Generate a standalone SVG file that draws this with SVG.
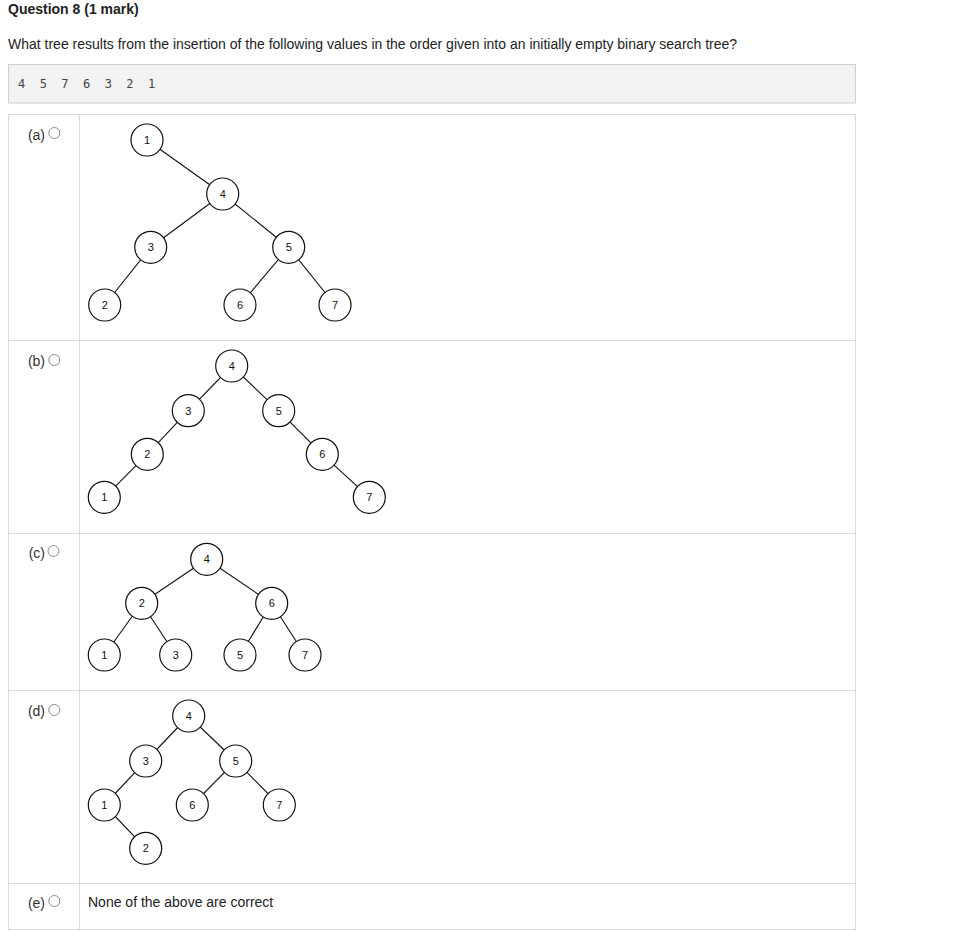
<svg xmlns="http://www.w3.org/2000/svg" width="962" height="931" viewBox="0 0 962 931">
<style>
.t{font-family:"Liberation Sans",Arial,sans-serif;fill:#222}
.n circle{fill:#fff;stroke:#111;stroke-width:1.2}
.n text{font-family:"Liberation Sans",Arial,sans-serif;font-size:11px;fill:#111;text-anchor:middle}
.e line{stroke:#111;stroke-width:1.1}
.grid{stroke:#dcdcdc;stroke-width:1;fill:none}
.lbl{font-family:"Liberation Sans",Arial,sans-serif;font-size:14px;fill:#333;text-anchor:end}
.radio{fill:#fff;stroke:#8a8a8a;stroke-width:1}
</style>
<rect width="962" height="931" fill="#fff"/>
<text class="t" x="8" y="14" font-size="14" font-weight="bold" fill="#000">Question 8 (1 mark)</text>
<text class="t" x="8" y="49" font-size="14" fill="#333">What tree results from the insertion of the following values in the order given into an initially empty binary search tree?</text>
<rect x="8.5" y="64.5" width="847" height="38.5" fill="#f3f3f3" stroke="#cfcfcf"/>
<text x="18" y="88" font-family="'DejaVu Sans Mono','Liberation Mono',monospace" font-size="12" fill="#444" xml:space="preserve" style="white-space:pre">4  5  7  6  3  2  1</text>

<g id="table">
<rect class="grid" x="8.5" y="114.5" width="847" height="815"/>
<line class="grid" x1="79.5" y1="114.5" x2="79.5" y2="929.5"/>
<line class="grid" x1="8.5" y1="340.5" x2="855.5" y2="340.5"/>
<line class="grid" x1="8.5" y1="533.5" x2="855.5" y2="533.5"/>
<line class="grid" x1="8.5" y1="690.5" x2="855.5" y2="690.5"/>
<line class="grid" x1="8.5" y1="883.5" x2="855.5" y2="883.5"/>
</g>

<g id="labels">
<text class="lbl" x="45" y="140">(a)</text><circle class="radio" cx="54.3" cy="133" r="5.5"/>
<text class="lbl" x="45" y="366">(b)</text><circle class="radio" cx="54.3" cy="360" r="5.5"/>
<text class="lbl" x="45" y="558">(c)</text><circle class="radio" cx="53.5" cy="551" r="5.5"/>
<text class="lbl" x="45" y="716">(d)</text><circle class="radio" cx="54.3" cy="710" r="5.5"/>
<text class="lbl" x="45" y="908">(e)</text><circle class="radio" cx="54.3" cy="901" r="5.5"/>
<text class="t" x="88" y="907" font-size="14" fill="#333">None of the above are correct</text>
</g>

<g id="connectors" class="e">
<!-- a -->
<line x1="147" y1="140" x2="222.7" y2="194"/>
<line x1="222.7" y1="194" x2="150.7" y2="247.3"/>
<line x1="222.7" y1="194" x2="288.7" y2="247.3"/>
<line x1="150.7" y1="247.3" x2="104.7" y2="305"/>
<line x1="288.7" y1="247.3" x2="240" y2="305"/>
<line x1="288.7" y1="247.3" x2="335" y2="305"/>
<!-- b -->
<line x1="231.7" y1="366" x2="188.3" y2="410.7"/>
<line x1="231.7" y1="366" x2="278.7" y2="410.7"/>
<line x1="188.3" y1="410.7" x2="147.3" y2="454.3"/>
<line x1="147.3" y1="454.3" x2="104.3" y2="497.3"/>
<line x1="278.7" y1="410.7" x2="322.3" y2="454.3"/>
<line x1="322.3" y1="454.3" x2="369.3" y2="497.3"/>
<!-- c -->
<line x1="206.7" y1="559.3" x2="141.7" y2="603.3"/>
<line x1="206.7" y1="559.3" x2="271.7" y2="603.3"/>
<line x1="141.7" y1="603.3" x2="104.3" y2="655"/>
<line x1="141.7" y1="603.3" x2="175.7" y2="655"/>
<line x1="271.7" y1="603.3" x2="240" y2="655"/>
<line x1="271.7" y1="603.3" x2="305" y2="655"/>
<!-- d -->
<line x1="188.7" y1="716" x2="145.7" y2="761"/>
<line x1="188.7" y1="716" x2="235.7" y2="761"/>
<line x1="145.7" y1="761" x2="104.3" y2="805"/>
<line x1="104.3" y1="805" x2="145.7" y2="848.3"/>
<line x1="235.7" y1="761" x2="192.3" y2="805"/>
<line x1="235.7" y1="761" x2="279.3" y2="805"/>
</g>

<g id="a-nodes" class="n">
<g id="a1"><circle cx="147" cy="140" r="16"/><text x="147" y="144">1</text></g>
<g id="a4"><circle cx="222.7" cy="194" r="16"/><text x="222.7" y="198">4</text></g>
<g id="a3"><circle cx="150.7" cy="247.3" r="16"/><text x="150.7" y="251.3">3</text></g>
<g id="a5"><circle cx="288.7" cy="247.3" r="16"/><text x="288.7" y="251.3">5</text></g>
<g id="a2"><circle cx="104.7" cy="305" r="16"/><text x="104.7" y="309">2</text></g>
<g id="a6"><circle cx="240" cy="305" r="16"/><text x="240" y="309">6</text></g>
<g id="a7"><circle cx="335" cy="305" r="16"/><text x="335" y="309">7</text></g>
</g>
<g id="b-nodes" class="n">
<g id="b4"><circle cx="231.7" cy="366" r="16"/><text x="231.7" y="370">4</text></g>
<g id="b3"><circle cx="188.3" cy="410.7" r="16"/><text x="188.3" y="414.7">3</text></g>
<g id="b5"><circle cx="278.7" cy="410.7" r="16"/><text x="278.7" y="414.7">5</text></g>
<g id="b2"><circle cx="147.3" cy="454.3" r="16"/><text x="147.3" y="458.3">2</text></g>
<g id="b6"><circle cx="322.3" cy="454.3" r="16"/><text x="322.3" y="458.3">6</text></g>
<g id="b1"><circle cx="104.3" cy="497.3" r="16"/><text x="104.3" y="501.3">1</text></g>
<g id="b7"><circle cx="369.3" cy="497.3" r="16"/><text x="369.3" y="501.3">7</text></g>
</g>
<g id="c-nodes" class="n">
<g id="c4"><circle cx="206.7" cy="559.3" r="16"/><text x="206.7" y="563.3">4</text></g>
<g id="c2"><circle cx="141.7" cy="603.3" r="16"/><text x="141.7" y="607.3">2</text></g>
<g id="c6"><circle cx="271.7" cy="603.3" r="16"/><text x="271.7" y="607.3">6</text></g>
<g id="c1"><circle cx="104.3" cy="655" r="16"/><text x="104.3" y="659">1</text></g>
<g id="c3"><circle cx="175.7" cy="655" r="16"/><text x="175.7" y="659">3</text></g>
<g id="c5"><circle cx="240" cy="655" r="16"/><text x="240" y="659">5</text></g>
<g id="c7"><circle cx="305" cy="655" r="16"/><text x="305" y="659">7</text></g>
</g>
<g id="d-nodes" class="n">
<g id="d4"><circle cx="188.7" cy="716" r="16"/><text x="188.7" y="720">4</text></g>
<g id="d3"><circle cx="145.7" cy="761" r="16"/><text x="145.7" y="765">3</text></g>
<g id="d5"><circle cx="235.7" cy="761" r="16"/><text x="235.7" y="765">5</text></g>
<g id="d1"><circle cx="104.3" cy="805" r="16"/><text x="104.3" y="809">1</text></g>
<g id="d6"><circle cx="192.3" cy="805" r="16"/><text x="192.3" y="809">6</text></g>
<g id="d7"><circle cx="279.3" cy="805" r="16"/><text x="279.3" y="809">7</text></g>
<g id="d2"><circle cx="145.7" cy="848.3" r="16"/><text x="145.7" y="852.3">2</text></g>
</g>
</svg>
